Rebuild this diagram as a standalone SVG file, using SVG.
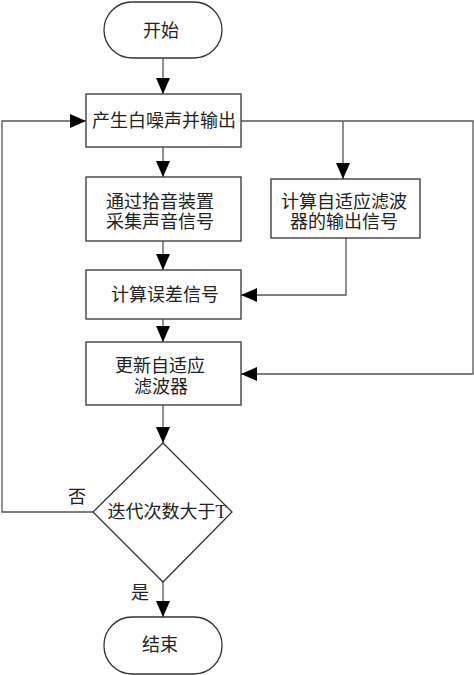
<svg xmlns="http://www.w3.org/2000/svg" width="474" height="675" viewBox="0 0 474 675">
<style>
.n{fill:#fff;stroke:#333;stroke-width:1.3}
.c{fill:none;stroke:#555;stroke-width:1.3}
text{font-family:"Liberation Serif","Noto Sans CJK SC",serif;font-size:18px;fill:#222;text-anchor:middle;dominant-baseline:central}
</style>
<defs>
<marker id="a" markerUnits="userSpaceOnUse" markerWidth="16" markerHeight="14" refX="16" refY="7" orient="auto">
<path d="M0,0 L16,7 L0,14 Z" fill="#000"/>
</marker>
</defs>
<rect width="474" height="675" fill="#fff"/>
<g id="connectors">
<path class="c" d="M163,58 V94" marker-end="url(#a)"/>
<path class="c" d="M163,147 V177" marker-end="url(#a)"/>
<path class="c" d="M241,121 H473 V374 H241" marker-end="url(#a)"/>
<path class="c" d="M343,121 V179" marker-end="url(#a)"/>
<path class="c" d="M163,241 V270" marker-end="url(#a)"/>
<path class="c" d="M346,238 V295 H241" marker-end="url(#a)"/>
<path class="c" d="M163,319 V342" marker-end="url(#a)"/>
<path class="c" d="M163,405 V443" marker-end="url(#a)"/>
<path class="c" d="M93,512 H2 V121 H86" marker-end="url(#a)"/>
<path class="c" d="M163,582 V617" marker-end="url(#a)"/>
<text x="77" y="497">否</text>
<text x="140" y="593">是</text>
</g>
<g id="start">
<rect class="n" x="104" y="2" width="118" height="56" rx="28"/>
<text x="161" y="31">开始</text>
</g>
<g id="noise">
<rect class="n" x="86" y="94" width="155" height="53"/>
<text x="164" y="121">产生白噪声并输出</text>
</g>
<g id="collect">
<rect class="n" x="86" y="177" width="155" height="64"/>
<text x="160" y="202">通过拾音装置</text>
<text x="160" y="222">采集声音信号</text>
</g>
<g id="filterout">
<rect class="n" x="271" y="179" width="149" height="59"/>
<text x="344" y="202">计算自适应滤波</text>
<text x="344" y="222">器的输出信号</text>
</g>
<g id="error">
<rect class="n" x="86" y="270" width="155" height="49"/>
<text x="165" y="295">计算误差信号</text>
</g>
<g id="update">
<rect class="n" x="86" y="342" width="155" height="63"/>
<text x="160" y="366">更新自适应</text>
<text x="161" y="387">滤波器</text>
</g>
<g id="decision">
<polygon class="n" points="163,443 232,512 163,582 93,512"/>
<text x="167" y="512">迭代次数大于T</text>
</g>
<g id="end">
<rect class="n" x="104" y="617" width="118" height="57" rx="28"/>
<text x="160" y="645">结束</text>
</g>
</svg>
